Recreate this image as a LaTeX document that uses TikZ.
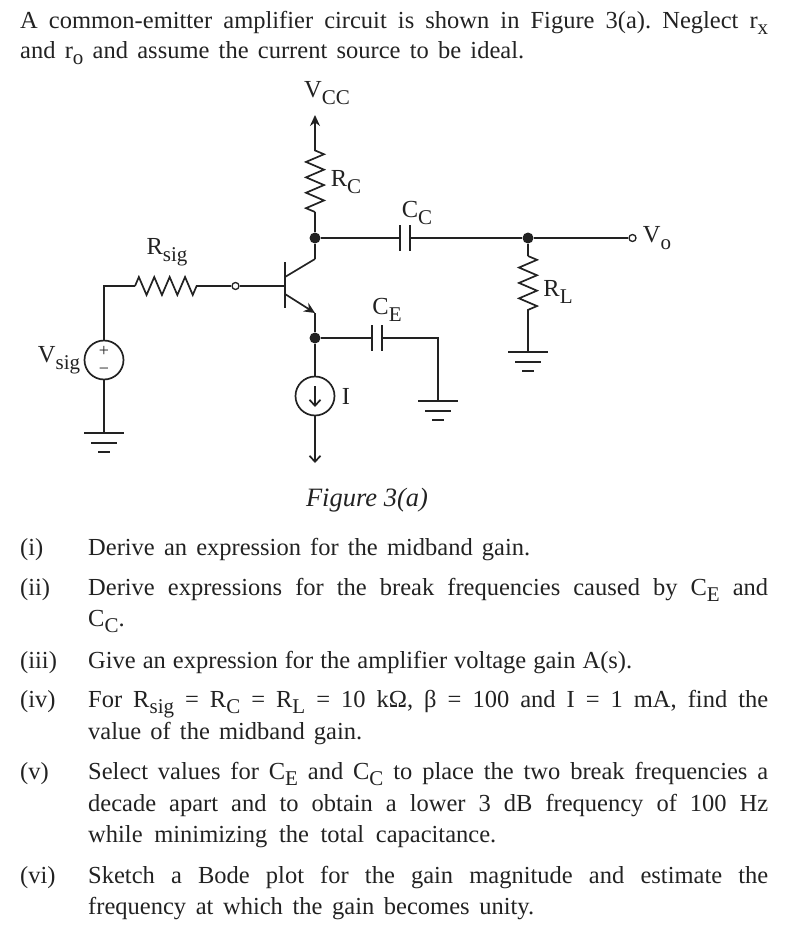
\documentclass[tikz,border=0pt]{standalone}
\usepackage{fontspec}
\setmainfont{Liberation Serif}
\frenchspacing
\usetikzlibrary{arrows.meta,decorations.pathmorphing}
\definecolor{inkc}{HTML}{222222}
\newcommand{\fitline}[2]{\makebox[#1pt][s]{#2}}
\newcommand{\sbs}[1]{\raisebox{-6.5pt}{\fontsize{21}{21}\selectfont #1}}
\tikzset{
    wire/.style={draw=inkc,line width=1.7pt},
    res/.style={wire,decoration={zigzag,segment length=15.4pt,amplitude=9pt},decorate},
    plate/.style={draw=inkc,line width=1.9pt},
    dot/.style={circle,fill=inkc,inner sep=0pt,minimum size=11pt},
    port/.style={circle,draw=inkc,line width=1.3pt,fill=white,inner sep=0pt,minimum size=7pt},
    source/.style={circle,wire,inner sep=0pt,minimum size=39pt},
    lbl/.style={inner sep=0pt,text=inkc,font=\fontsize{24.5}{28}\selectfont},
    bodyline/.style={lbl,anchor=base west},
    gnd/.pic={
        \draw[wire] (-20,0) -- (20,0);
        \draw[wire] (-13,10) -- (13,10);
        \draw[wire] (-6,19) -- (6,19);
    }
}
\begin{document}
\begin{tikzpicture}[x=1pt,y=-1pt]
    \useasboundingbox (0,0) rectangle (787,926);

    % input side
    \node[source] (vsig) at (104,360) {};
    \node[lbl] (vsigplus) at (104,351) {\fontsize{18}{18}\selectfont +};
    \node[lbl] (vsigminus) at (104,371) {\fontsize{18}{18}\selectfont −};
    \coordinate (vsigtop) at (104,286);
    \coordinate (rsigl) at (135,286);
    \coordinate (rsigr) at (198,286);
    \node[port] (base) at (235.5,286) {};
    \coordinate (bar) at (285,286);
    \coordinate (gnda) at (104,433);
    \draw[wire] (vsig) -- (vsigtop) -- (rsigl);
    \draw[res] (rsigl) -- (rsigr);
    \draw[wire] (rsigr) -- (base) -- (bar);
    \draw[wire] (vsig) -- (gnda);
    \pic at (gnda) {gnd};

    % transistor
    \coordinate (bartop) at (285,262);
    \coordinate (barbot) at (285,308);
    \coordinate (coll) at (315,259);
    \coordinate (emit) at (315,313);
    \draw[plate] (bartop) -- (barbot);
    \draw[wire] (285,277) -- (coll);
    \draw[wire,-{Stealth[length=11pt,width=10pt]}] (285,294) -- (emit);

    % collector branch
    \node[dot] (cnode) at (315,238) {};
    \coordinate (rctop) at (315,148);
    \coordinate (rcbot) at (315,212);
    \coordinate (vcc) at (315,115);
    \draw[wire] (coll) -- (cnode) -- (rcbot);
    \draw[res] (rcbot) -- (rctop);
    \draw[wire,-{Stealth[length=11pt,width=10pt]}] (rctop) -- (vcc);

    % output
    \coordinate (ccl) at (400,238);
    \coordinate (ccr) at (410,238);
    \node[dot] (onode) at (528,238) {};
    \node[port] (vout) at (632.5,238) {};
    \draw[wire] (cnode) -- (ccl);
    \draw[plate] (400,225) -- (400,251);
    \draw[plate] (410,225) -- (410,251);
    \draw[wire] (ccr) -- (onode) -- (vout);
    \coordinate (rltop) at (528,256);
    \coordinate (rlbot) at (528,317);
    \coordinate (gndb) at (528,352);
    \draw[wire] (onode) -- (rltop);
    \draw[res] (rltop) -- (rlbot);
    \draw[wire] (rlbot) -- (gndb);
    \pic at (gndb) {gnd};

    % emitter branch
    \node[dot] (enode) at (315,338) {};
    \node[source] (isrc) at (315,396) {};
    \coordinate (cel) at (372,338);
    \coordinate (cer) at (382,338);
    \coordinate (cecorner) at (438,338);
    \coordinate (gndc) at (438,401);
    \coordinate (iend) at (315,463);
    \coordinate (iarrt) at (315,386);
    \coordinate (iarrb) at (315,407);
    \draw[wire] (emit) -- (enode) -- (isrc);
    \draw[wire] (enode) -- (cel);
    \draw[plate] (372,325) -- (372,351);
    \draw[plate] (382,325) -- (382,351);
    \draw[wire] (cer) -- (cecorner) -- (gndc);
    \pic at (gndc) {gnd};
    \draw[wire,-{Straight Barb[length=6pt,width=11pt]}] (isrc) -- (iend);
    \draw[wire,-{Straight Barb[length=6pt,width=11pt]}] (iarrt) -- (iarrb);

    % circuit labels
    \node[lbl] (lvcc) at (327,93) {V\sbs{CC}};
    \node[lbl] (lrc) at (346,182) {R\sbs{C}};
    \node[lbl] (lcc) at (417,213) {C\sbs{C}};
    \node[lbl] (lvo) at (657,238) {V\sbs{o}};
    \node[lbl] (lrsig) at (167,252) {R\sbs{sig}};
    \node[lbl] (lrl) at (558,292) {R\sbs{L}};
    \node[lbl] (lce) at (387,310) {C\sbs{E}};
    \node[lbl] (lvsig) at (59,360) {V\sbs{sig}};
    \node[lbl] (li) at (346,396) {I};
    \node[lbl,font=\fontsize{26.5}{28}\selectfont\itshape] (lfig) at (367,500) {Figure 3(a)};

    % text above and below
    \node[bodyline] (top1) at (20,28) {\fitline{748}{A common-emitter amplifier circuit is shown in Figure 3(a). Neglect r\sbs{x}}};
    \node[bodyline] (top2) at (20,58) {\fitline{504}{and r\sbs{o} and assume the current source to be ideal.}};

    \node[bodyline] (mi) at (20,555) {(i)};
    \node[bodyline] (qi) at (88,555) {\fitline{442}{Derive an expression for the midband gain.}};
    \node[bodyline] (mii) at (20,595) {(ii)};
    \node[bodyline] (qiia) at (88,595) {\fitline{680}{Derive expressions for the break frequencies caused by C\sbs{E} and}};
    \node[bodyline] (qiib) at (88,626) {C\sbs{C}.};
    \node[bodyline] (miii) at (20,668) {(iii)};
    \node[bodyline] (qiii) at (88,668) {\fitline{544}{Give an expression for the amplifier voltage gain A(s).}};
    \node[bodyline] (miv) at (20,707) {(iv)};
    \node[bodyline] (qiva) at (88,707) {\fitline{680}{For R\sbs{sig} = R\sbs{C} = R\sbs{L} = 10 kΩ, β = 100 and I = 1 mA, find the}};
    \node[bodyline] (qivb) at (88,739) {\fitline{274}{value of the midband gain.}};
    \node[bodyline] (mv) at (20,779) {(v)};
    \node[bodyline] (qva) at (88,779) {\fitline{680}{Select values for C\sbs{E} and C\sbs{C} to place the two break frequencies a}};
    \node[bodyline] (qvb) at (88,811) {\fitline{680}{decade apart and to obtain a lower 3 dB frequency of 100 Hz}};
    \node[bodyline] (qvc) at (88,842) {\fitline{408}{while minimizing the total capacitance.}};
    \node[bodyline] (mvi) at (20,883) {(vi)};
    \node[bodyline] (qvia) at (88,883) {\fitline{680}{Sketch a Bode plot for the gain magnitude and estimate the}};
    \node[bodyline] (qvib) at (88,914) {\fitline{446}{frequency at which the gain becomes unity.}};
\end{tikzpicture}
\end{document}
